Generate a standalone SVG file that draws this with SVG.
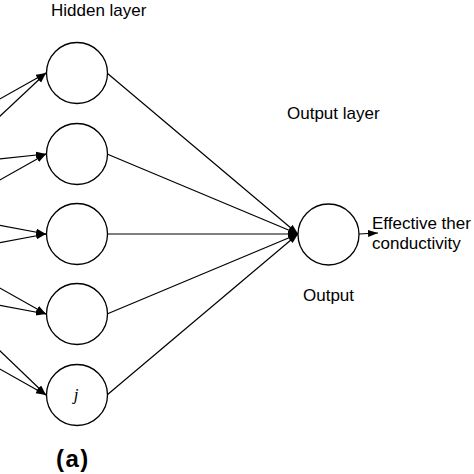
<svg xmlns="http://www.w3.org/2000/svg" width="474" height="474" viewBox="0 0 474 474">
<style>
.node{fill:#fff;stroke:#000;stroke-width:1.3}
.edge{stroke:#000;stroke-width:1.2;fill:none;marker-end:url(#ah)}
.lbl{font-family:"Liberation Sans",Arial,sans-serif;font-size:17px;fill:#000}
</style>
<defs>
<marker id="ah" markerUnits="userSpaceOnUse" markerWidth="11" markerHeight="8" refX="10" refY="3.5" orient="auto">
<path d="M0,0 L10,3.5 L0,7 z" fill="#000"/>
</marker>
</defs>
<rect width="474" height="474" fill="#fff"/>
<g id="connectors">
<line class="edge" x1="-2" y1="100" x2="46" y2="73"/>
<line class="edge" x1="-2" y1="118" x2="46" y2="73"/>
<line class="edge" x1="-2" y1="159" x2="46" y2="154"/>
<line class="edge" x1="-2" y1="181" x2="46" y2="154"/>
<line class="edge" x1="-2" y1="225" x2="46" y2="234"/>
<line class="edge" x1="-2" y1="243" x2="46" y2="234"/>
<line class="edge" x1="-2" y1="287" x2="46" y2="314"/>
<line class="edge" x1="-2" y1="305" x2="46" y2="314"/>
<line class="edge" x1="-2" y1="349" x2="46" y2="395"/>
<line class="edge" x1="-2" y1="368" x2="46" y2="395"/>
<line class="edge" x1="107" y1="73" x2="298" y2="234"/>
<line class="edge" x1="107" y1="154" x2="298" y2="234"/>
<line class="edge" x1="107" y1="234" x2="298" y2="234"/>
<line class="edge" x1="107" y1="314" x2="298" y2="234"/>
<line class="edge" x1="107" y1="395" x2="298" y2="234"/>
<line class="edge" x1="359" y1="234" x2="378" y2="233"/>
</g>
<g id="h1"><circle class="node" cx="77" cy="73" r="30.5"/></g>
<g id="h2"><circle class="node" cx="77" cy="154" r="30.5"/></g>
<g id="h3"><circle class="node" cx="77" cy="234" r="30.5"/></g>
<g id="h4"><circle class="node" cx="77" cy="314" r="30.5"/></g>
<g id="h5"><circle class="node" cx="77" cy="395" r="30.5"/>
<text x="76" y="400" text-anchor="middle" font-family="Liberation Serif,Times New Roman,serif" font-style="italic" font-size="17">j</text></g>
<g id="out"><circle class="node" cx="328.5" cy="234.5" r="30.5"/></g>
<text class="lbl" x="51" y="16">Hidden layer</text>
<text class="lbl" x="287" y="119">Output layer</text>
<text class="lbl" x="303" y="301">Output</text>
<text class="lbl" x="372" y="229">Effective ther</text>
<text class="lbl" x="372" y="249">conductivity</text>
<text x="56" y="467" font-family="Liberation Sans,Arial,sans-serif" font-weight="bold" font-size="24" letter-spacing="1.5">(a)</text>
</svg>
